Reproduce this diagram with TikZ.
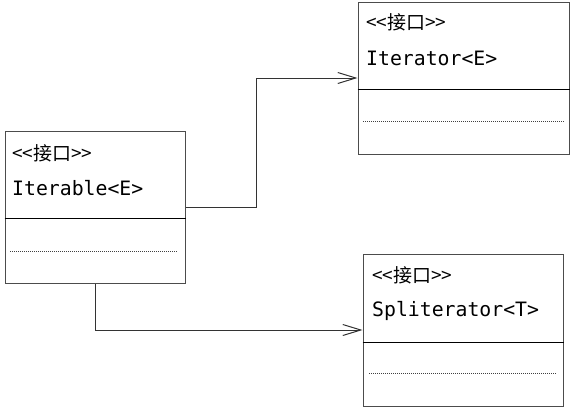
\documentclass[tikz,border=0pt]{standalone}
\usepackage{fontspec}
\setmonofont{DejaVu Sans Mono}
\newfontfamily\cjk{Noto Sans CJK SC}
\usepackage{tikz}
\usetikzlibrary{arrows.meta,positioning}

\tikzset{
	classbox/.style={draw=black!70, line width=1pt, inner sep=0pt, minimum height=152pt},
	stereo/.style={anchor=west, inner sep=0pt, font=\cjk\fontsize{19}{21}\selectfont},
	cname/.style={anchor=west, inner sep=0pt, font=\ttfamily\fontsize{19.8}{22}\selectfont},
	sep/.style={black, line width=1pt},
	dots/.style={black!75, line width=0.8pt, dash pattern=on 1pt off 1pt},
	impl/.style={draw=black!80, line width=1pt, -{Straight Barb[length=18pt,width=11pt,line width=1pt]}}
}

\begin{document}
\begin{tikzpicture}[x=1pt,y=-1pt]
		\useasboundingbox (0,0) rectangle (571,408);
		% classes
		\node[classbox, minimum width=180pt] (iterable) at (95,207) {};
		\node[classbox, minimum width=211pt] (iterator) at (463.5,78) {};
		\node[classbox, minimum width=200pt] (spliterator) at (463,330) {};
		%
		\node[stereo] (iterableS) at (12,153) {<<接口>>};
		\node[cname] (iterableN) at (12,188) {Iterable<E>};
		\node[stereo] (iteratorS) at (366,22) {<<接口>>};
		\node[cname] (iteratorN) at (366,58) {Iterator<E>};
		\node[stereo] (spliteratorS) at (372,275) {<<接口>>};
		\node[cname] (spliteratorN) at (372,311) {Spliterator<T>};
		%
		\draw[sep] (iterable.west |- 0,218) -- (iterable.east |- 0,218);
		\draw[dots] (10,251) -- (178,251);
		\draw[sep] (iterator.west |- 0,89) -- (iterator.east |- 0,89);
		\draw[dots] (363,121) -- (564,121);
		\draw[sep] (spliterator.west |- 0,342) -- (spliterator.east |- 0,342);
		\draw[dots] (369,373) -- (557,373);
		% realizations
		\coordinate (knee) at (256,207);
		\draw[impl] (iterable.east) -- (knee) |- (iterator.west);
		\draw[impl] (iterable.south) |- (spliterator.west);
	\end{tikzpicture}
\end{document}
